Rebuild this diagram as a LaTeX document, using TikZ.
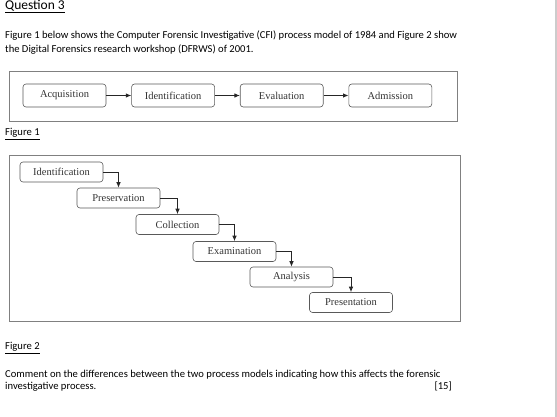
\documentclass[tikz,border=0pt]{standalone}
\usepackage{fontspec}
\setmainfont{Carlito}
\newfontfamily\boxfont{Liberation Serif}
\usetikzlibrary{positioning, arrows.meta}

\begin{document}
\begin{tikzpicture}[
        x=1pt, y=1pt,
        node distance=25pt,
        txt/.style={anchor=base west, inner sep=0pt, font=\fontsize{10.6}{12}\selectfont},
        stagebox/.style={rectangle, rounded corners=3pt, draw=black!65, line width=0.6pt, text=black!80, minimum width=83pt, minimum height=23pt, inner sep=0pt, font=\boxfont\fontsize{10.5}{12}\selectfont},
        stepbox/.style={stagebox, minimum height=20pt},
        framebox/.style={draw=black!50, line width=0.8pt},
        arr/.style={-{Latex[length=5.5pt, width=4.5pt]}, line width=0.8pt, black!85},
    ]
    \useasboundingbox (0,0) rectangle (557,-417);
    \draw[black!20, line width=1.2pt] (556,0) -- (556,-417);

    \node[txt, font=\fontsize{13.5}{15}\selectfont] (qhead) at (5,-9.5) {\underline{Question 3}};
    \node[txt] (intro1) at (5,-39) {Figure 1 below shows the Computer Forensic Investigative (CFI) process model of 1984 and Figure 2 show};
    \node[txt] (intro2) at (5,-53) {the Digital Forensics research workshop (DFRWS) of 2001.};

    % Figure 1: CFI model
    \draw[framebox] (9,-71) rectangle (457,-121);
    \node[stagebox] (acq) at (64.5,-95.5) {Acquisition};
    \node[stagebox, right=of acq] (ident) {Identification};
    \node[stagebox, right=of ident] (eval) {Evaluation};
    \node[stagebox, right=of eval] (adm) {Admission};

    \draw[arr] (acq) -- (ident);
    \draw[arr] (ident) -- (eval);
    \draw[arr] (eval) -- (adm);

    \node[txt] (fig1) at (5,-135.5) {\underline{Figure 1}};

    % Figure 2: DFRWS model
    \draw[framebox] (9,-155) rectangle (460,-321);
    \node[stepbox] (idf) at (61.5,-172) {Identification};
    \node[stepbox] (pres) at (118.5,-198) {Preservation};
    \node[stepbox] (coll) at (177.5,-224.5) {Collection};
    \node[stepbox] (exam) at (234.5,-251.5) {Examination};
    \node[stepbox] (anal) at (291.5,-277) {Analysis};
    \node[stepbox] (prsn) at (351,-302.5) {Presentation};

    \draw[arr] (idf.east) -| (pres.north);
    \draw[arr] (pres.east) -| (coll.north);
    \draw[arr] (coll.east) -| (exam.north);
    \draw[arr] (exam.east) -| (anal.north);
    \draw[arr] (anal.east) -| (prsn.north);

    \node[txt] (fig2) at (5,-349.5) {\underline{Figure 2}};

    \node[txt] (task1) at (5,-377) {Comment on the differences between the two process models indicating how this affects the forensic};
    \node[txt] (task2) at (5,-389.5) {investigative process.};
    \node[txt, anchor=base east] (marks) at (452,-389.5) {[15]};
\end{tikzpicture}
\end{document}
